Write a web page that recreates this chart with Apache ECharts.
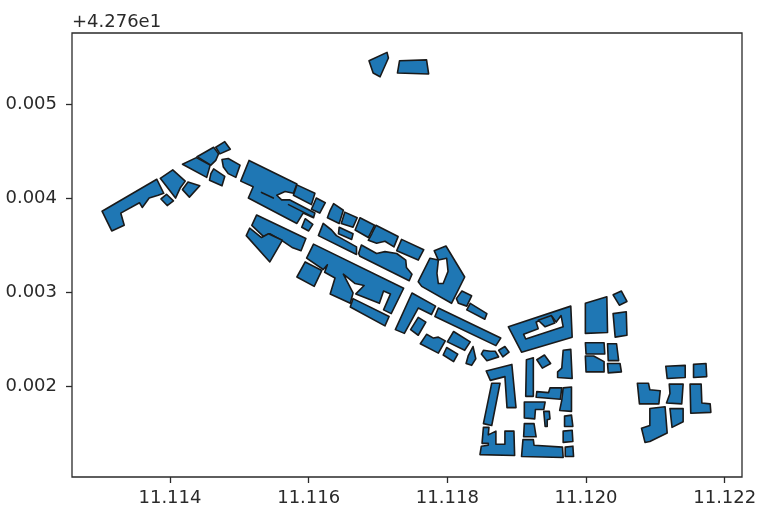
<!DOCTYPE html>
<html>
<head>
<meta charset="utf-8">
<style>
  html, body { margin: 0; padding: 0; background: #fff; }
  #chart { width: 768px; height: 526px; }
</style>
<script src="https://cdn.jsdelivr.net/npm/echarts@6/dist/echarts.min.js"></script>
</head>
<body>
<div id="chart"></div>
<script>
// axis values (latitude is drawn relative to the +4.276e1 offset)
var xTicks = [11.114, 11.116, 11.118, 11.120, 11.122];
var yTicks = [0.002, 0.003, 0.004, 0.005];
var xRange = [11.112587, 11.122249];
var yRange = [0.001032, 0.005756];
var offsetLabel = '+4.276e1';

// building footprints as [lon, lat offset] rings
var northBlock = [
  [[11.11687,.00546],[11.11713,.00555],[11.11715,.00549],[11.11703,.00529],[11.11693,.00533]],
  [[11.11731,.00546],[11.1177,.00547],[11.11773,.00532],[11.11728,.00533]]
];
var westBlock = [
  [[11.11302,.00386],[11.11381,.0042],[11.11391,.00405],[11.11383,.00403],[11.1137,.004],[11.11364,.00394],[11.1136,.0039],[11.11356,.00395],[11.11329,.00384],[11.11334,.00371],[11.11316,.00365]],
  [[11.11386,.00421],[11.11404,.0043],[11.11422,.00418],[11.11415,.00411],[11.11408,.004]],
  [[11.11387,.00399],[11.11395,.00404],[11.11405,.00397],[11.11396,.00392]],
  [[11.11426,.00417],[11.11443,.00413],[11.11428,.00401],[11.11418,.00409]],
  [[11.11418,.00436],[11.11438,.00443],[11.11458,.00435],[11.11453,.00422]],
  [[11.11439,.00444],[11.11463,.00454],[11.1147,.00447],[11.11466,.0044],[11.11459,.00435]],
  [[11.11466,.00454],[11.11479,.0046],[11.11487,.00452],[11.11472,.00447]],
  [[11.11459,.00426],[11.11463,.00431],[11.11479,.00423],[11.11475,.00413],[11.11457,.00419]],
  [[11.11475,.00441],[11.11484,.00442],[11.11501,.00435],[11.11495,.00422],[11.11484,.00426],[11.11477,.00433]]
];
var upperStrip = [
  [[11.11514,.0044],[11.11583,.00415],[11.11578,.00405],[11.11566,.00407],[11.11554,.00403],[11.11561,.00398],[11.11573,.00398],[11.11609,.00384],[11.11607,.00379],[11.11592,.00384],[11.11583,.00373],[11.11513,.004],[11.1152,.00412],[11.11502,.00418]],
  [[11.11532,.00406],[11.11549,.004]],
  [[11.11571,.00393],[11.11606,.0038]],
  [[11.11583,.00414],[11.11609,.00405],[11.11604,.00393],[11.11578,.00403]],
  [[11.11611,.004],[11.11624,.00395],[11.11616,.00384],[11.11604,.00388]],
  [[11.11595,.00378],[11.11606,.00372],[11.116,.00365],[11.1159,.00369]],
  [[11.11525,.00382],[11.11596,.00357],[11.11589,.00344],[11.11577,.00347],[11.11561,.00355],[11.11544,.00362],[11.11535,.00359],[11.11518,.00371]],
  [[11.11515,.00368],[11.11532,.00358],[11.11542,.00362],[11.11562,.00355],[11.11544,.00332],[11.1151,.0036]]
];
var middleRow = [
  [[11.11636,.00394],[11.1165,.00387],[11.11644,.00373],[11.11627,.00379],[11.11631,.00387]],
  [[11.11652,.00385],[11.1167,.00379],[11.11664,.00369],[11.11647,.00373]],
  [[11.11674,.00379],[11.11695,.00371],[11.11686,.00358],[11.11667,.00366]],
  [[11.11697,.00371],[11.11729,.00359],[11.11723,.00348],[11.1171,.00354],[11.11698,.00352],[11.11686,.00355],[11.11691,.00362]],
  [[11.11734,.00356],[11.11766,.00345],[11.11758,.00334],[11.11727,.00344]],
  [[11.11621,.00373],[11.11633,.00366],[11.1164,.0036],[11.11669,.00348],[11.11669,.0034],[11.11614,.0036]],
  [[11.11644,.00369],[11.11664,.00362],[11.11662,.00356],[11.11643,.00362]],
  [[11.11676,.0035],[11.11698,.00341],[11.1171,.00343],[11.11727,.00341],[11.1174,.00334],[11.11741,.00326],[11.11749,.00319],[11.11745,.00312],[11.11674,.00338],[11.11672,.00341]]
];
var lowerBlock = [
  [[11.11607,.00351],[11.11737,.00304],[11.11719,.00277],[11.11708,.00281],[11.11718,.00298],[11.11708,.00301],[11.11702,.00288],[11.11668,.00298],[11.1168,.00307],[11.11667,.00309],[11.1165,.00319],[11.11664,.00299],[11.1166,.00288],[11.11631,.00298],[11.11638,.00315],[11.11623,.00321],[11.11627,.00329],[11.11621,.00324],[11.11597,.00336]],
  [[11.11595,.00332],[11.11619,.00323],[11.11608,.00306],[11.11583,.00316]],
  [[11.11664,.00293],[11.11716,.00274],[11.1171,.00264],[11.1166,.00284]],
  [[11.11781,.00344],[11.11798,.00349],[11.11825,.00316],[11.11806,.00288],[11.11763,.00306],[11.11758,.00311],[11.11775,.00336],[11.11787,.00334]],
  [[11.11821,.00301],[11.11835,.00296],[11.11828,.00285],[11.11816,.00288],[11.11813,.00293]],
  [[11.11833,.00288],[11.11857,.00277],[11.11854,.00271],[11.11828,.00281]],
  [[11.11749,.00299],[11.11783,.00285],[11.11777,.00276],[11.11758,.00283],[11.11738,.00256],[11.11725,.0026]],
  [[11.11758,.00273],[11.11769,.00268],[11.11758,.00254],[11.11747,.0026]],
  [[11.11787,.00283],[11.11877,.00251],[11.1187,.00243],[11.11782,.00274]],
  [[11.1177,.00255],[11.1178,.00251],[11.11787,.00252],[11.11797,.00248],[11.11787,.00235],[11.11761,.00245]],
  [[11.11809,.00258],[11.11833,.00247],[11.11825,.00238],[11.118,.00247]],
  [[11.11799,.00241],[11.11815,.00234],[11.11809,.00226],[11.11794,.00233]],
  [[11.11837,.00242],[11.11841,.00229],[11.11835,.00222],[11.11827,.00224],[11.1183,.00232]],
  [[11.11852,.00238],[11.11862,.00237],[11.11869,.00237],[11.11874,.00231],[11.11857,.00227],[11.11849,.00234]],
  [[11.11874,.00238],[11.11883,.00242],[11.11889,.00236],[11.1188,.00231]]
];
var southBlock = [
  [[11.11888,.00263],[11.11978,.00285],[11.1198,.00252],[11.11907,.00236]],
  [[11.11967,.00238],[11.11978,.00239],[11.1198,.00208],[11.11959,.00209],[11.11959,.00215],[11.11965,.00219]],
  [[11.11929,.00228],[11.1194,.00233],[11.11949,.00224],[11.11937,.00219]],
  [[11.11914,.00228],[11.11924,.0023],[11.11924,.00189],[11.11913,.00189]],
  [[11.11856,.00216],[11.11893,.00223],[11.11899,.00177],[11.11886,.00177],[11.11883,.0021],[11.11862,.00206]],
  [[11.11864,.00203],[11.11876,.00203],[11.11864,.00158],[11.11852,.0016]],
  [[11.11852,.00156],[11.1186,.00156],[11.11859,.00148],[11.1187,.00152],[11.1187,.00138],[11.11883,.00138],[11.11883,.00152],[11.11896,.00152],[11.11897,.00126],[11.11847,.00127],[11.11849,.00136],[11.11859,.00137],[11.11859,.00139],[11.1185,.00139]],
  [[11.11929,.00194],[11.11946,.00193],[11.11948,.00198],[11.11965,.00198],[11.11963,.00186],[11.11928,.00188]],
  [[11.11967,.00198],[11.11979,.00199],[11.11979,.00173],[11.11962,.00174],[11.11965,.00185]],
  [[11.11911,.00183],[11.11941,.00183],[11.11939,.00175],[11.11927,.00175],[11.11926,.00165],[11.11911,.00166]],
  [[11.11939,.00173],[11.11947,.00173],[11.11948,.00165],[11.11944,.00164],[11.11944,.00157],[11.11941,.00157]],
  [[11.11911,.0016],[11.11925,.0016],[11.11928,.00146],[11.1191,.00146]],
  [[11.11909,.00143],[11.11924,.00143],[11.11925,.00137],[11.11966,.00135],[11.11967,.00124],[11.11907,.00125]],
  [[11.11969,.00168],[11.11979,.00169],[11.11981,.00157],[11.11969,.00157]],
  [[11.11967,.00152],[11.1198,.00153],[11.11981,.00141],[11.11967,.0014]],
  [[11.1197,.00135],[11.11981,.00136],[11.11982,.00125],[11.1197,.00125]]
];
var riversideBlock = [
  [[11.11999,.00288],[11.1203,.00295],[11.12031,.00257],[11.11999,.00256]],
  [[11.12039,.00297],[11.12051,.00301],[11.12059,.0029],[11.12048,.00286]],
  [[11.12039,.00277],[11.12058,.00279],[11.12059,.00254],[11.12042,.00252]],
  [[11.11999,.00246],[11.12026,.00246],[11.12027,.00234],[11.12,.00234]],
  [[11.11999,.00232],[11.12011,.00232],[11.12026,.00226],[11.12026,.00215],[11.12,.00215]],
  [[11.12031,.00245],[11.12044,.00245],[11.12047,.00227],[11.12032,.00227]],
  [[11.12031,.00224],[11.12049,.00224],[11.12051,.00215],[11.12032,.00214]]
];
var eastBlock = [
  [[11.12115,.00221],[11.12143,.00222],[11.12143,.00209],[11.12117,.00208]],
  [[11.12155,.00223],[11.12173,.00224],[11.12174,.0021],[11.12155,.00209]],
  [[11.12074,.00203],[11.1209,.00203],[11.12092,.00196],[11.12107,.00195],[11.12105,.00181],[11.12077,.00181]],
  [[11.1212,.00202],[11.1214,.00202],[11.12138,.00181],[11.12116,.00182],[11.12121,.00192]],
  [[11.1215,.00202],[11.12166,.00202],[11.12167,.00182],[11.12179,.00181],[11.1218,.00172],[11.12151,.00171]],
  [[11.12092,.00176],[11.12114,.00178],[11.12117,.0015],[11.12092,.00141],[11.12085,.0014],[11.1208,.00155],[11.12092,.00158]],
  [[11.12121,.00176],[11.1214,.00176],[11.1214,.00162],[11.12124,.00156]]
];

// open courtyards, painted over the footprints they sit in
var courtyards = [
  [[11.11787,.00334],[11.11799,.00336],[11.11801,.00322],[11.11794,.00309],[11.11787,.00309],[11.11785,.0032]],
  [[11.1191,.00255],[11.11931,.00261],[11.11928,.00268],[11.11951,.00274],[11.11957,.00268],[11.11964,.00275],[11.11967,.00263],[11.11913,.0025]]
];
var courtyardInfill = [
  [[11.11931,.0027],[11.1195,.00275],[11.11955,.00267],[11.11941,.00263]]
];

var buildings = [].concat(northBlock, westBlock, upperStrip, middleRow, lowerBlock, southBlock, riversideBlock, eastBlock);

function ringSeries(rings, fill, z) {
  return {
    type: 'custom',
    coordinateSystem: 'cartesian2d',
    silent: true,
    animation: false,
    z: z,
    data: rings.map(function(r, i) { return [r[0][0], r[0][1], i]; }),
    renderItem: function(params, api) {
      var ring = rings[api.value(2)];
      return {
        type: 'polygon',
        shape: { points: ring.map(function(p) { return api.coord(p); }) },
        style: { fill: fill, stroke: '#1a1a1a', lineWidth: 1.6, lineJoin: 'round' }
      };
    }
  };
}

var chart = echarts.init(document.getElementById('chart'), null, { renderer: 'canvas' });
var labelStyle = { color: '#2a2a2a', fontFamily: 'DejaVu Sans', fontSize: 18 };
chart.setOption({
  animation: false,
  grid: {
    left: 72, top: 33, width: 670, height: 444,
    show: true, borderColor: '#2a2a2a', borderWidth: 1.3, backgroundColor: '#ffffff'
  },
  xAxis: {
    type: 'value',
    min: xRange[0],
    max: xRange[1],
    scale: true,
    splitLine: { show: false },
    axisLine: { show: false },
    axisTick: { show: true, length: 6, customValues: xTicks, lineStyle: { color: '#2a2a2a', width: 1.3 } },
    axisLabel: Object.assign({
      margin: 12,
      customValues: xTicks,
      hideOverlap: false,
      formatter: function(v) { return v.toFixed(3); }
    }, labelStyle)
  },
  yAxis: {
    type: 'value',
    min: yRange[0],
    max: yRange[1],
    scale: true,
    splitLine: { show: false },
    axisLine: { show: false },
    axisTick: { show: true, length: 6, customValues: yTicks, lineStyle: { color: '#2a2a2a', width: 1.3 } },
    axisLabel: Object.assign({
      margin: 15,
      customValues: yTicks,
      formatter: function(v) { return v.toFixed(3); }
    }, labelStyle),
    name: offsetLabel,
    nameLocation: 'end',
    nameGap: 2,
    nameTextStyle: Object.assign({ align: 'left', verticalAlign: 'bottom' }, labelStyle)
  },
  series: [
    ringSeries(buildings, '#1f77b4', 2),
    ringSeries(courtyards, '#ffffff', 3),
    ringSeries(courtyardInfill, '#1f77b4', 4)
  ]
});
</script>
</body>
</html>
